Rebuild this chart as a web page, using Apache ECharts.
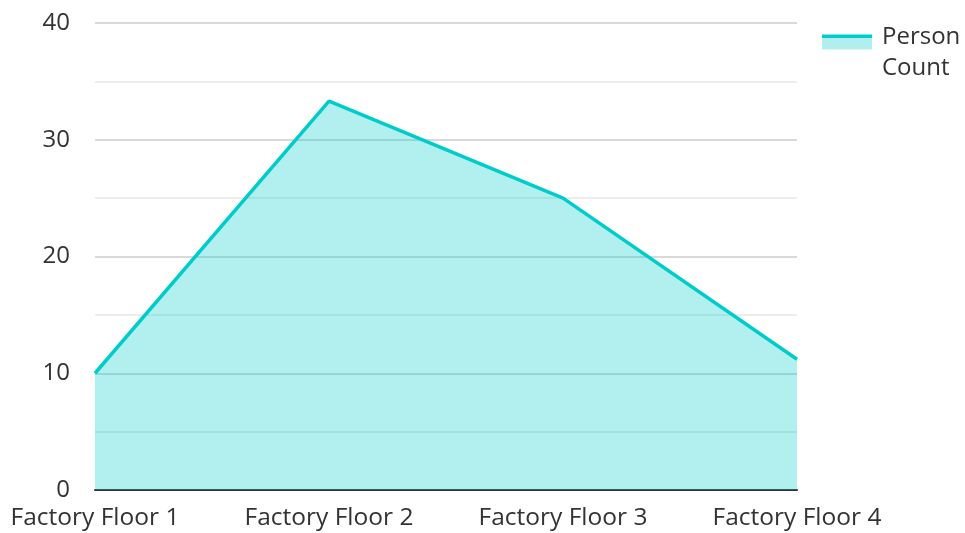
<!DOCTYPE html>
<html>
<head>
<meta charset="utf-8">
<script src="https://cdn.jsdelivr.net/npm/echarts@6/dist/echarts.min.js"></script>
<style>
html,body{margin:0;padding:0;background:#fff;}
#chart{width:965px;height:533px;}
</style>
</head>
<body>
<div id="chart"></div>
<script>
var categories = ['Factory Floor 1', 'Factory Floor 2', 'Factory Floor 3', 'Factory Floor 4'];
var personCount = [10, 33.3, 25, 11.2];
var seriesName = 'Person Count';

var FONT = '"Open Sans", "Noto Sans", sans-serif';
var chart = echarts.init(document.getElementById('chart'));
chart.setOption({
  animation: false,
  grid: { left: 95, right: 168, top: 23, bottom: 43, containLabel: false },
  legend: {
    orient: 'vertical',
    left: 822,
    top: -16,
    padding: [16, 0, 0, 0],
    icon: 'rect',
    itemWidth: 50,
    itemHeight: 15,
    itemGap: 10,
    itemStyle: {
      color: {
        type: 'linear', x: 0, y: 0, x2: 0, y2: 1,
        colorStops: [
          { offset: 0, color: '#00cccc' },
          { offset: 0.22, color: '#00cccc' },
          { offset: 0.22, color: '#b2eeee' },
          { offset: 1, color: '#b2eeee' }
        ]
      }
    },
    formatter: function (n) {
      return '{s|}\n' + n.split(' ').map(function (w) { return '{a|' + w + '}'; }).join('\n');
    },
    textStyle: {
      fontFamily: FONT, fontSize: 24, color: '#333',
      rich: {
        s: { height: 22, lineHeight: 22, fontSize: 10 },
        a: { fontFamily: FONT, fontSize: 24, color: '#333', lineHeight: 31, padding: [0, 0, 0, 5] }
      }
    },
    data: [seriesName]
  },
  xAxis: {
    type: 'category',
    data: categories,
    boundaryGap: false,
    axisTick: { show: false },
    axisLine: { lineStyle: { color: '#333', width: 2 } },
    axisLabel: { fontFamily: FONT, fontSize: 24.5, color: '#333', margin: 16 },
    splitLine: { show: false }
  },
  yAxis: {
    type: 'value',
    min: 0, max: 40, interval: 10,
    axisLine: { show: false },
    axisTick: { show: false },
    axisLabel: { fontFamily: FONT, fontSize: 24, color: '#333', margin: 25 },
    splitLine: { lineStyle: { color: '#cccccc', width: 1.5 } },
    minorTick: { show: false, splitNumber: 2 },
    minorSplitLine: { show: true, lineStyle: { color: '#e8e8e8', width: 1.5 } }
  },
  series: [{
    name: seriesName,
    type: 'line',
    data: personCount,
    symbol: 'none',
    lineStyle: { color: '#00cccc', width: 3.5 },
    itemStyle: { color: '#00cccc' },
    areaStyle: { color: '#00cccc', opacity: 0.3 }
  }]
});
</script>
</body>
</html>
